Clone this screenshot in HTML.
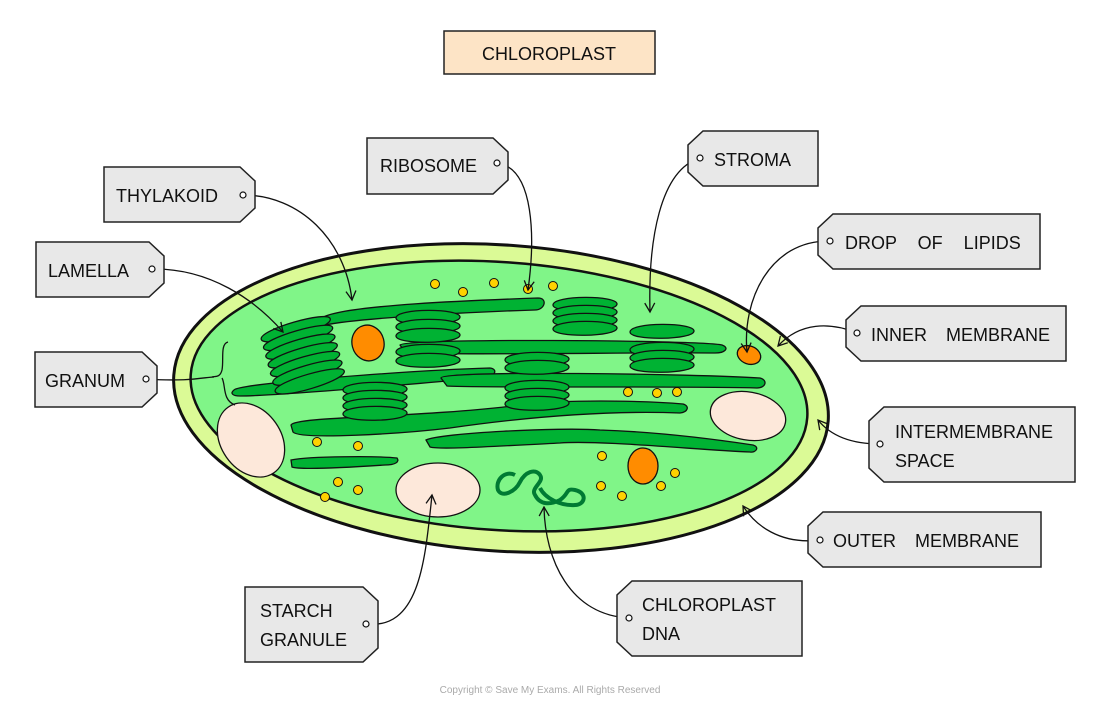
<!DOCTYPE html>
<html><head><meta charset="utf-8"><style>
html,body{margin:0;padding:0;background:#fff;}
svg{display:block;}
text{font-family:"Liberation Sans",sans-serif;font-size:18px;fill:#111;letter-spacing:0;}
</style></head><body>
<svg width="1100" height="710" viewBox="0 0 1100 710" xmlns="http://www.w3.org/2000/svg">
<defs>
<marker id="ar" viewBox="0 0 12 12" refX="10" refY="6" markerWidth="12" markerHeight="12" orient="auto" markerUnits="userSpaceOnUse">
<path d="M1,1 L10,6 L1,11" fill="none" stroke="#111" stroke-width="1.3"/>
</marker>
<g id="disc"><path d="M-36,0 C-36,-10 36,-11 36,-2 C36,8 -36,10 -36,0Z" fill="#00b233" stroke="#111" stroke-width="1.3"/></g>
<g id="ddisc"><path d="M-32,0 C-32,-10 32,-10 32,-1 C32,8 -32,9 -32,0Z" fill="#00b233" stroke="#111" stroke-width="1.3"/></g>
</defs>

<rect x="444" y="31" width="211" height="43" fill="#fde4c6" stroke="#222" stroke-width="1.5"/>
<text x="549" y="60" text-anchor="middle">CHLOROPLAST</text>

<ellipse cx="501" cy="398" rx="328" ry="153" transform="rotate(4 501 398)" fill="#dbfa96" stroke="#111" stroke-width="3"/>
<ellipse cx="499" cy="396" rx="309" ry="134" transform="rotate(4 499 396)" fill="#80f588" stroke="#111" stroke-width="2.5"/>

<ellipse cx="251" cy="440" rx="30" ry="40" transform="rotate(-35 251 440)" fill="#fde8da" stroke="#111" stroke-width="1.3"/>
<ellipse cx="438" cy="490" rx="42" ry="27" fill="#fde8da" stroke="#111" stroke-width="1.3"/>
<ellipse cx="748" cy="416" rx="38" ry="24" transform="rotate(10 748 416)" fill="#fde8da" stroke="#111" stroke-width="1.3"/>

<ellipse cx="368" cy="343" rx="16" ry="18" transform="rotate(-15 368 343)" fill="#ff8c00" stroke="#111" stroke-width="1.3"/>
<ellipse cx="643" cy="466" rx="15" ry="18" fill="#ff8c00" stroke="#111" stroke-width="1.3"/>
<ellipse cx="749" cy="355" rx="12" ry="9" transform="rotate(20 749 355)" fill="#ff8c00" stroke="#111" stroke-width="1.3"/>

<g fill="#00b233" stroke="#111" stroke-width="1.3">
<path d="M322,318 C340,305 480,300 538,298 C548,298 545,310 535,310 C470,312 360,318 325,325 C318,326 318,320 322,318Z"/>
<path d="M400,345 C400,338 700,340 722,345 C730,348 725,353 715,353 C650,352 420,356 405,352Z"/>
<path d="M234,390 C240,383 420,370 490,368 C498,369 495,376 488,377 C420,384 270,396 240,396 C232,396 230,393 234,390Z"/>
<path d="M441,378 C441,370 700,374 760,378 C768,380 766,388 757,388 C700,386 480,388 447,386Z"/>
<path d="M291,425 C295,416 420,418 520,405 C580,398 660,402 683,404 C690,406 688,412 680,413 C600,410 520,418 450,428 C400,434 300,440 293,432Z"/>
<path d="M426,440 C440,433 560,427 600,430 C660,432 720,440 753,445 C760,447 756,453 750,452 C700,450 600,440 560,443 C500,446 440,450 430,447Z"/>
<path d="M291,460 C310,456 380,456 397,458 C400,462 395,465 385,465 C340,468 300,470 292,467Z"/>
</g>

<g transform="translate(296,330) rotate(-15)"><use href="#disc" y="0"/><use href="#disc" y="9"/><use href="#disc" y="18"/><use href="#disc" y="27"/><use href="#disc" y="36"/><use href="#disc" y="45"/><use href="#disc" y="54"/></g>
<g transform="translate(428,318)"><use href="#ddisc" y="0"/><use href="#ddisc" y="9"/><use href="#ddisc" y="18"/><use href="#ddisc" y="34"/><use href="#ddisc" y="43"/></g>
<g transform="translate(585,305)"><use href="#ddisc" y="0"/><use href="#ddisc" y="8"/><use href="#ddisc" y="16"/><use href="#ddisc" y="24"/></g>
<g transform="translate(662,332)"><use href="#ddisc" y="0"/><use href="#ddisc" y="18"/><use href="#ddisc" y="26"/><use href="#ddisc" y="34"/></g>
<g transform="translate(537,360)"><use href="#ddisc" y="0"/><use href="#ddisc" y="8"/><use href="#ddisc" y="28"/><use href="#ddisc" y="36"/><use href="#ddisc" y="44"/></g>
<g transform="translate(375,390)"><use href="#ddisc" y="0"/><use href="#ddisc" y="8"/><use href="#ddisc" y="16"/><use href="#ddisc" y="24"/></g>

<g fill="#ffd200" stroke="#111" stroke-width="1">
<circle cx="435" cy="284" r="4.5"/><circle cx="463" cy="292" r="4.5"/><circle cx="494" cy="283" r="4.5"/><circle cx="528" cy="289" r="4.5"/><circle cx="553" cy="286" r="4.5"/>
<circle cx="628" cy="392" r="4.5"/><circle cx="657" cy="393" r="4.5"/><circle cx="677" cy="392" r="4.5"/>
<circle cx="317" cy="442" r="4.5"/><circle cx="358" cy="446" r="4.5"/>
<circle cx="338" cy="482" r="4.5"/><circle cx="358" cy="490" r="4.5"/><circle cx="325" cy="497" r="4.5"/>
<circle cx="602" cy="456" r="4.5"/><circle cx="601" cy="486" r="4.5"/><circle cx="622" cy="496" r="4.5"/><circle cx="661" cy="486" r="4.5"/><circle cx="675" cy="473" r="4.5"/>
</g>

<path d="M515,475 C505,470 495,480 498,490 C502,498 515,492 520,482 C525,472 535,468 540,475 C545,482 530,488 535,495 C540,505 550,505 560,500 C570,493 565,488 575,490 C588,493 585,505 575,505 C560,506 545,498 540,488" fill="none" stroke="#007a33" stroke-width="4"/>

<path d="M228,342 C220,344 224,360 222,370 C220,378 215,376 212,377 M222,378 C226,385 222,400 235,405" fill="none" stroke="#111" stroke-width="1.3"/>

<g fill="none" stroke="#111" stroke-width="1.3">
<path d="M243,195 C300,195 345,240 352,300" marker-end="url(#ar)"/>
<path d="M497,163 C535,168 535,240 528,290" marker-end="url(#ar)"/>
<path d="M700,158 C660,170 648,240 650,312" marker-end="url(#ar)"/>
<path d="M152,269 C210,268 255,300 283,332" marker-end="url(#ar)"/>
<path d="M830,241 C770,240 742,300 747,352" marker-end="url(#ar)"/>
<path d="M857,333 C830,322 800,322 778,346" marker-end="url(#ar)"/>
<path d="M146,379 C190,382 205,377 214,377"/>
<path d="M880,444 C850,444 830,435 818,420" marker-end="url(#ar)"/>
<path d="M820,540 C780,545 755,525 743,506" marker-end="url(#ar)"/>
<path d="M366,624 C420,630 425,560 432,495" marker-end="url(#ar)"/>
<path d="M629,618 C570,615 545,560 544,507" marker-end="url(#ar)"/>
</g>

<g fill="#e8e8e8" stroke="#222" stroke-width="1.5">
<path d="M104,167 H240 L255,181 V208 L240,222 H104 Z"/>
<path d="M367,138 H493 L508,152 V180 L493,194 H367 Z"/>
<path d="M36,242 H149 L164,256 V283 L149,297 H36 Z"/>
<path d="M35,352 H142 L157,366 V393 L142,407 H35 Z"/>
<path d="M245,587 H363 L378,601 V648 L363,662 H245 Z"/>
<path d="M703,131 H818 V186 H703 L688,172 V145 Z"/>
<path d="M833,214 H1040 V269 H833 L818,255 V228 Z"/>
<path d="M861,306 H1066 V361 H861 L846,347 V320 Z"/>
<path d="M884,407 H1075 V482 H884 L869,468 V421 Z"/>
<path d="M823,512 H1041 V567 H823 L808,553 V526 Z"/>
<path d="M632,581 H802 V656 H632 L617,642 V595 Z"/>
</g>
<g fill="#fff" stroke="#111" stroke-width="1.2">
<circle cx="243" cy="195" r="3"/><circle cx="497" cy="163" r="3"/><circle cx="152" cy="269" r="3"/><circle cx="146" cy="379" r="3"/><circle cx="366" cy="624" r="3"/>
<circle cx="700" cy="158" r="3"/><circle cx="830" cy="241" r="3"/><circle cx="857" cy="333" r="3"/><circle cx="880" cy="444" r="3"/><circle cx="820" cy="540" r="3"/><circle cx="629" cy="618" r="3"/>
</g>
<text x="116" y="202">THYLAKOID</text>
<text x="380" y="172">RIBOSOME</text>
<text x="48" y="277">LAMELLA</text>
<text x="45" y="387">GRANUM</text>
<text x="260" y="617">STARCH</text>
<text x="260" y="646">GRANULE</text>
<text x="714" y="166">STROMA</text>
<text x="845" y="249" word-spacing="16">DROP OF LIPIDS</text>
<text x="871" y="341" word-spacing="14">INNER MEMBRANE</text>
<text x="895" y="438">INTERMEMBRANE</text>
<text x="895" y="467">SPACE</text>
<text x="833" y="547" word-spacing="14">OUTER MEMBRANE</text>
<text x="642" y="611">CHLOROPLAST</text>
<text x="642" y="640">DNA</text>

<text x="550" y="693" text-anchor="middle" style="font-size:10px;fill:#aaa;letter-spacing:0">Copyright © Save My Exams. All Rights Reserved</text>
</svg>
</body></html>
